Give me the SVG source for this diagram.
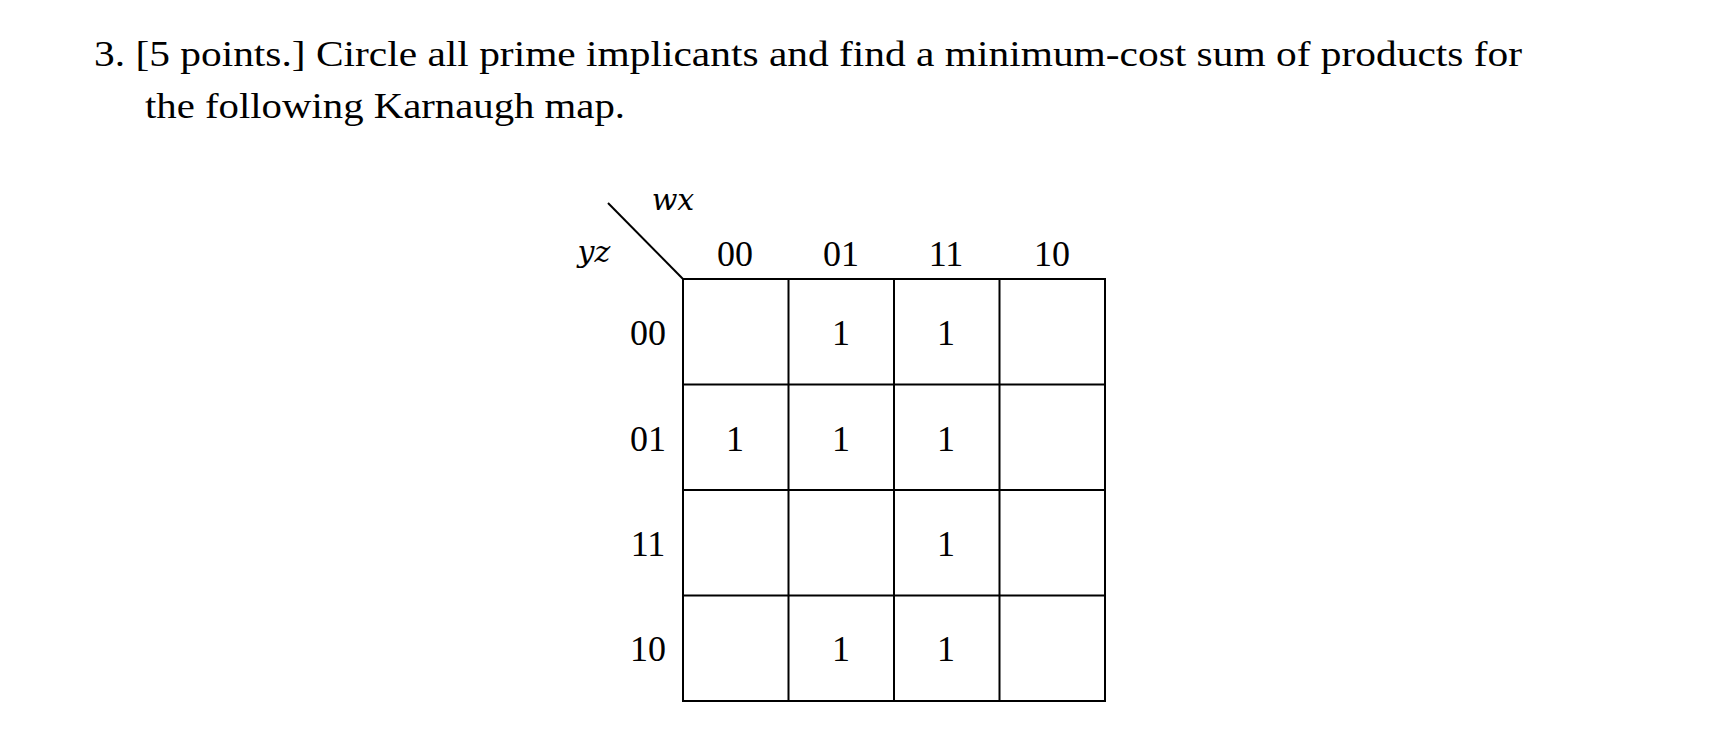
<svg xmlns="http://www.w3.org/2000/svg" width="1736" height="742" viewBox="0 0 1736 742">
<style>
text{font-family:"Liberation Serif","Times New Roman",serif;fill:#000;font-size:36px}
.c{text-anchor:middle}
.i{font-style:italic;font-family:"DejaVu Serif","Liberation Serif",serif;font-size:30px}
.g{stroke:#000;stroke-width:2;fill:none}
</style>
<rect width="1736" height="742" fill="#fff"/>
<g id="question">
<text x="94" y="66" textLength="1428" lengthAdjust="spacingAndGlyphs">3.  [5 points.] Circle all prime implicants and find a minimum-cost sum of products for</text>
<text x="145" y="118" textLength="480" lengthAdjust="spacingAndGlyphs">the following Karnaugh map.</text>
</g>
<g id="axes">
<line class="g" x1="608" y1="203" x2="683" y2="279"/>
<text class="i c" x="673" y="210">wx</text>
<text class="i c" x="594" y="262">yz</text>
</g>
<g id="grid">
<rect class="g" x="683" y="279" width="422" height="422"/>
<path class="g" d="M788.5 279V701M894 279V701M999.5 279V701M683 384.5H1105M683 490H1105M683 595.5H1105"/>
</g>
<g id="labels">
<text class="c" x="735" y="266">00</text><text class="c" x="841" y="266">01</text><text class="c" x="946" y="266">11</text><text class="c" x="1052" y="266">10</text>
<text class="c" x="648" y="345">00</text><text class="c" x="648" y="451">01</text><text class="c" x="648" y="556">11</text><text class="c" x="648" y="661">10</text>
</g>
<g id="cells">
<text class="c" x="841" y="345">1</text><text class="c" x="946" y="345">1</text>
<text class="c" x="735" y="451">1</text><text class="c" x="841" y="451">1</text><text class="c" x="946" y="451">1</text>
<text class="c" x="946" y="556">1</text>
<text class="c" x="841" y="661">1</text><text class="c" x="946" y="661">1</text>
</g>
</svg>
